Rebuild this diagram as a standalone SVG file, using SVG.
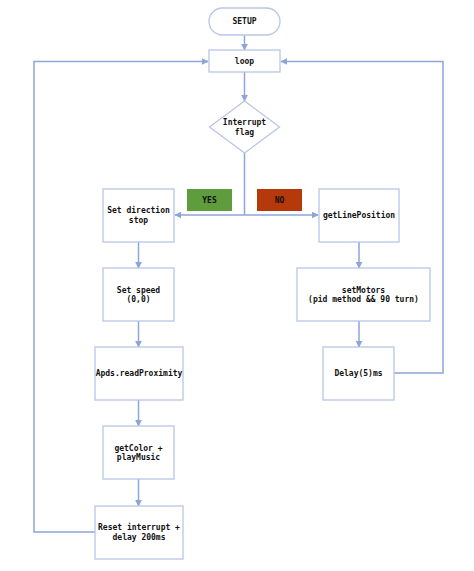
<svg xmlns="http://www.w3.org/2000/svg" width="474" height="571" viewBox="0 0 474 571">
<style>
.box{fill:#fff;stroke:#b8c5e6;stroke-width:1.3}
.t{font-family:"DejaVu Sans Mono","Liberation Mono",monospace;font-size:8px;font-weight:bold;fill:#111;text-anchor:middle;dominant-baseline:central}
.c{fill:none;stroke:#8ea5d8;stroke-width:1.5}
</style>
<defs>
<marker id="a" viewBox="0 0 10 10" refX="9" refY="5" markerWidth="7" markerHeight="7" markerUnits="userSpaceOnUse" orient="auto">
<path d="M0,0 L10,5 L0,10 z" fill="#8ea5d8"/>
</marker>
</defs>
<rect width="474" height="571" fill="#fff"/>
<g id="connectors">
<path class="c" d="M244.5,35 V50" marker-end="url(#a)"/>
<path class="c" d="M244.5,72 V101" marker-end="url(#a)"/>
<path class="c" d="M244.5,153 V215"/>
<path class="c" d="M244.5,215 H175" marker-end="url(#a)"/>
<path class="c" d="M244.5,215 H318" marker-end="url(#a)"/>
<path class="c" d="M138.5,242 V268" marker-end="url(#a)"/>
<path class="c" d="M138.5,321 V347" marker-end="url(#a)"/>
<path class="c" d="M138.5,400 V426" marker-end="url(#a)"/>
<path class="c" d="M138.5,479 V506" marker-end="url(#a)"/>
<path class="c" d="M359,242 V268" marker-end="url(#a)"/>
<path class="c" d="M359,321 V347" marker-end="url(#a)"/>
<path class="c" d="M394,373 H443 V61.5 H281" marker-end="url(#a)"/>
<path class="c" d="M95,532 H34 V61.5 H208" marker-end="url(#a)"/>
</g>
<g id="setup"><rect class="box" x="209" y="8" width="71" height="27" rx="13.5"/><text class="t" x="244.5" y="21.5">SETUP</text></g>
<g id="loop"><rect class="box" x="209" y="50" width="71" height="22"/><text class="t" x="244.5" y="61">loop</text></g>
<g id="interrupt"><path class="box" d="M244.5,101 L279.5,127 L244.5,153 L209.5,127 Z"/><text class="t" x="244.5" y="122">Interrupt</text><text class="t" x="244.5" y="132">flag</text></g>
<g id="yes"><rect x="187" y="189" width="45" height="22" fill="#5e9c3d"/><text class="t" x="209.5" y="200">YES</text></g>
<g id="no"><rect x="257" y="189" width="45" height="22" fill="#b5390b"/><text class="t" x="279.5" y="200">NO</text></g>
<g id="setdir"><rect class="box" x="103" y="189" width="71" height="53"/><text class="t" x="138.5" y="210.5">Set direction</text><text class="t" x="138.5" y="220">stop</text></g>
<g id="setspeed"><rect class="box" x="103" y="268" width="71" height="53"/><text class="t" x="138.5" y="290">Set speed</text><text class="t" x="138.5" y="299.5">(0,0)</text></g>
<g id="apds"><rect class="box" x="95" y="347" width="88" height="53"/><text class="t" x="139" y="373.5">Apds.readProximity</text></g>
<g id="getcolor"><rect class="box" x="103" y="426" width="71" height="53"/><text class="t" x="138.5" y="448">getColor +</text><text class="t" x="138.5" y="457.5">playMusic</text></g>
<g id="reset"><rect class="box" x="95" y="506" width="88" height="53"/><text class="t" x="139" y="527.5">Reset interrupt +</text><text class="t" x="139" y="537">delay 200ms</text></g>
<g id="getline"><rect class="box" x="319" y="189" width="80" height="53"/><text class="t" x="359" y="215">getLinePosition</text></g>
<g id="setmotors"><rect class="box" x="297" y="268" width="133" height="53"/><text class="t" x="363.5" y="290">setMotors</text><text class="t" x="363.5" y="299.5">(pid method &amp;&amp; 90 turn)</text></g>
<g id="delay"><rect class="box" x="323" y="347" width="71" height="53"/><text class="t" x="358.5" y="373.5">Delay(5)ms</text></g>
</svg>
